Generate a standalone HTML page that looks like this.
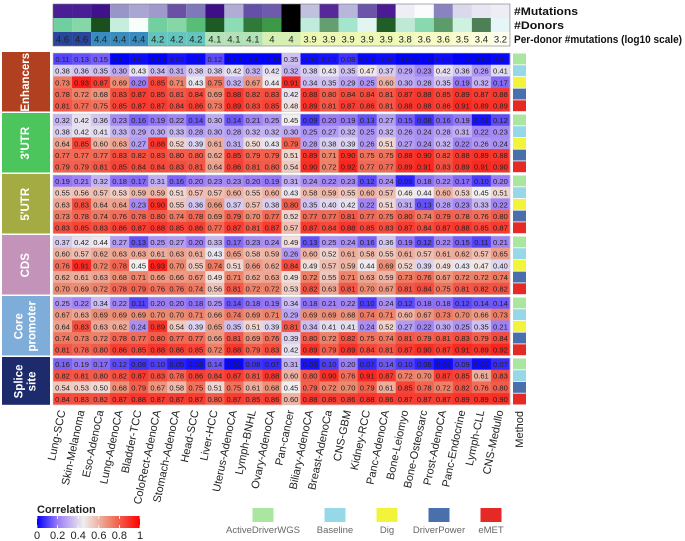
<!DOCTYPE html>
<html><head><meta charset="utf-8">
<style>
html,body{margin:0;padding:0;background:#fff;}
svg{display:block;font-family:"Liberation Sans",sans-serif;}
</style></head>
<body>
<svg id="chart" width="685" height="541" viewBox="0 0 685 541">
<defs>
<linearGradient id="corrgrad" x1="0" x2="1" y1="0" y2="0">
<stop offset="0" stop-color="#0000ff"/><stop offset="0.2" stop-color="#9b7cf5"/><stop offset="0.45" stop-color="#f0eeee"/><stop offset="0.7" stop-color="#ec8a70"/><stop offset="1" stop-color="#ff0000"/>
</linearGradient>
</defs>
<g id="header"></g>
<g id="panels"></g>
<g id="xlabels"></g>
<g>
<text x="37" y="513" font-size="11" font-weight="bold" fill="#222">Correlation</text>
<rect x="37" y="516" width="103" height="12" fill="url(#corrgrad)"/>
<g id="cticks"></g>
</g>
<g id="mlegend"></g>
</svg>
<script>
const NS='http://www.w3.org/2000/svg';
const svg=document.getElementById('chart');
function mk(tag,attrs,parent){const e=document.createElementNS(NS,tag);for(const k in attrs)e.setAttribute(k,attrs[k]);parent.appendChild(e);return e;}

const cancers=["Lung-SCC","Skin-Melanoma","Eso-AdenoCa","Lung-AdenoCA","Bladder-TCC","ColoRect-AdenoCA","Stomach-AdenoCA","Head-SCC","Liver-HCC","Uterus-AdenoCA","Lymph-BNHL","Ovary-AdenoCA","Pan-cancer","Biliary-AdenoCA","Breast-AdenoCa","CNS-GBM","Kidney-RCC","Panc-AdenoCA","Bone-Leiomyo","Bone-Osteosarc","Prost-AdenoCA","Panc-Endocrine","Lymph-CLL","CNS-Medullo"];
const mutColors=["#4a1f95","#4a1f95","#3f128c","#9a95c8","#aaa6d2","#9f9acb","#6a51a5","#7f79bb","#3f0f87","#b0acd6","#6550a8","#6f5bae","#000000","#c2c0df","#56289a","#b9b6db","#6a55a9","#4a1b93","#efeef6","#fbfbfd","#8984c0","#dad9ec","#e7e6f2","#eeedf5"];
const donorColors=["#6fcf9e","#86d7a8","#1b4f1e","#c6eedd","#f7fdfb","#72cf9f","#86d6a6","#58bd76","#1e5a25","#8cdcb6","#2f7a3a","#3d9848","#000000","#bfecdc","#659e70","#a5e5cd","#e2f5f1","#1f5e26","#bde9d6","#88d9b0","#5e9b6a","#cdf2e2","#4e7f57","#e5f5f8"];
const perDonor=[4.6,4.6,4.4,4.4,4.4,4.2,4.2,4.2,4.1,4.1,4.1,4,4,3.9,3.9,3.9,3.9,3.9,3.8,3.6,3.6,3.5,3.4,3.2];
const perDonorLabels=["4.6","4.6","4.4","4.4","4.4","4.2","4.2","4.2","4.1","4.1","4.1","4","4","3.9","3.9","3.9","3.9","3.9","3.8","3.6","3.6","3.5","3.4","3.2"];

const regions=["Enhancers","3'UTR","5'UTR","CDS","Core promoter","Splice site"];
const regionColors=["#b0401f","#4cc65c","#a4ab42","#c393ba","#7fadd9","#1d2a6b"];
const methods=["ActiveDriverWGS","Baseline","Dig","DriverPower","eMET"];
const methodColors=["#abe6a1","#97d8e8","#f1f43a","#4a6fad","#e52a26"];

const enhancers=[
[0.11,0.13,0.15,-0.02,0.02,-0.01,0.03,0.01,0.12,-0.01,-0.01,0.00,0.35,0.02,0.03,0.08,0.01,0.02,-0.03,-0.02,0.02,-0.02,-0.03,0.01],
[0.38,0.36,0.35,0.30,0.43,0.34,0.31,0.38,0.38,0.42,0.32,0.42,0.32,0.38,0.43,0.35,0.47,0.37,0.29,0.23,0.42,0.36,0.26,0.41],
[0.73,0.93,0.87,0.69,0.20,0.85,0.71,0.43,0.75,0.32,0.67,0.44,0.91,0.34,0.35,0.29,0.25,0.60,0.30,0.28,0.35,0.19,0.32,0.17],
[0.78,0.72,0.68,0.83,0.87,0.85,0.81,0.84,0.69,0.88,0.82,0.83,0.42,0.88,0.80,0.84,0.84,0.81,0.87,0.88,0.85,0.89,0.87,0.88],
[0.81,0.77,0.75,0.85,0.87,0.87,0.84,0.86,0.73,0.89,0.83,0.85,0.48,0.89,0.81,0.87,0.86,0.81,0.88,0.88,0.86,0.91,0.89,0.89]];
const utr3=[
[0.32,0.42,0.36,0.23,0.16,0.19,0.22,0.14,0.30,0.14,0.21,0.25,0.45,0.09,0.20,0.19,0.13,0.27,0.15,0.08,0.16,0.19,0.03,0.12],
[0.38,0.42,0.41,0.33,0.29,0.30,0.33,0.28,0.30,0.28,0.32,0.32,0.30,0.25,0.27,0.32,0.25,0.32,0.26,0.24,0.28,0.31,0.22,0.23],
[0.64,0.85,0.60,0.63,0.27,0.88,0.52,0.39,0.61,0.31,0.50,0.43,0.79,0.28,0.38,0.39,0.26,0.51,0.27,0.24,0.32,0.22,0.26,0.24],
[0.77,0.77,0.77,0.83,0.82,0.83,0.80,0.80,0.62,0.85,0.79,0.79,0.51,0.89,0.71,0.90,0.75,0.75,0.88,0.90,0.82,0.88,0.89,0.88],
[0.79,0.79,0.81,0.85,0.84,0.84,0.83,0.81,0.64,0.86,0.81,0.80,0.54,0.90,0.72,0.92,0.77,0.77,0.89,0.91,0.83,0.89,0.91,0.90]];
const utr5=[
[0.19,0.21,0.32,0.18,0.17,0.31,0.16,0.20,0.23,0.23,0.20,0.19,0.31,0.24,0.22,0.23,0.12,0.24,0.06,0.18,0.22,0.17,0.10,0.20],
[0.55,0.56,0.57,0.53,0.59,0.59,0.51,0.57,0.57,0.60,0.55,0.60,0.43,0.58,0.59,0.55,0.60,0.57,0.46,0.44,0.60,0.53,0.45,0.51],
[0.63,0.83,0.64,0.64,0.23,0.90,0.55,0.36,0.66,0.37,0.57,0.38,0.80,0.35,0.40,0.42,0.22,0.51,0.31,0.13,0.28,0.23,0.33,0.22],
[0.73,0.78,0.74,0.76,0.78,0.80,0.74,0.78,0.69,0.79,0.70,0.77,0.52,0.77,0.77,0.81,0.77,0.75,0.80,0.74,0.79,0.78,0.76,0.80],
[0.83,0.85,0.83,0.86,0.87,0.88,0.85,0.86,0.77,0.87,0.81,0.87,0.57,0.87,0.84,0.88,0.85,0.83,0.87,0.84,0.87,0.88,0.85,0.87]];
const cds=[
[0.37,0.42,0.44,0.27,0.13,0.25,0.27,0.20,0.33,0.17,0.23,0.24,0.49,0.13,0.25,0.24,0.16,0.36,0.19,0.12,0.22,0.15,0.11,0.21],
[0.60,0.57,0.62,0.63,0.63,0.61,0.63,0.61,0.43,0.65,0.58,0.59,0.26,0.60,0.52,0.61,0.58,0.55,0.61,0.57,0.61,0.62,0.57,0.65],
[0.76,0.91,0.72,0.78,0.45,0.93,0.70,0.55,0.74,0.51,0.66,0.62,0.84,0.49,0.57,0.59,0.44,0.69,0.52,0.39,0.49,0.43,0.47,0.40],
[0.62,0.61,0.63,0.68,0.71,0.66,0.66,0.67,0.49,0.71,0.62,0.63,0.49,0.72,0.55,0.71,0.63,0.59,0.73,0.76,0.67,0.72,0.72,0.74],
[0.70,0.69,0.72,0.78,0.79,0.76,0.76,0.74,0.56,0.81,0.72,0.72,0.53,0.82,0.63,0.81,0.70,0.67,0.81,0.84,0.75,0.81,0.82,0.82]];
const corePromoter=[
[0.25,0.22,0.34,0.22,0.11,0.20,0.20,0.18,0.25,0.14,0.18,0.19,0.34,0.18,0.21,0.22,0.10,0.24,0.12,0.18,0.18,0.12,0.14,0.14],
[0.67,0.63,0.69,0.69,0.69,0.70,0.70,0.71,0.66,0.74,0.69,0.71,0.29,0.69,0.69,0.68,0.74,0.71,0.60,0.67,0.73,0.70,0.66,0.73],
[0.64,0.83,0.63,0.62,0.24,0.89,0.54,0.39,0.65,0.35,0.51,0.39,0.81,0.34,0.41,0.41,0.24,0.52,0.27,0.22,0.30,0.25,0.35,0.21],
[0.74,0.73,0.72,0.78,0.77,0.80,0.77,0.77,0.66,0.81,0.69,0.76,0.39,0.80,0.72,0.82,0.75,0.74,0.81,0.79,0.81,0.83,0.79,0.84],
[0.81,0.78,0.80,0.86,0.85,0.88,0.86,0.85,0.72,0.88,0.79,0.83,0.42,0.89,0.79,0.89,0.84,0.81,0.87,0.90,0.87,0.91,0.89,0.92]];
const spliceSite=[
[0.16,0.19,0.17,0.12,0.08,0.10,0.05,0.03,0.14,0.01,0.08,0.07,0.31,0.03,0.10,0.20,0.07,0.14,0.10,0.06,0.02,0.09,0.02,0.07],
[0.82,0.81,0.80,0.82,0.87,0.83,0.78,0.86,0.84,0.87,0.81,0.88,0.60,0.80,0.90,0.76,0.91,0.87,0.72,0.70,0.87,0.85,0.61,0.83],
[0.54,0.53,0.50,0.68,0.79,0.67,0.58,0.75,0.51,0.75,0.61,0.68,0.45,0.79,0.72,0.70,0.79,0.61,0.85,0.78,0.72,0.82,0.76,0.80],
[0.84,0.83,0.82,0.87,0.88,0.87,0.87,0.87,0.80,0.87,0.85,0.86,0.60,0.88,0.86,0.86,0.88,0.86,0.87,0.87,0.87,0.89,0.89,0.90]];
const panelData=[enhancers,utr3,utr5,cds,corePromoter,spliceSite];
const panelMethods=[[0,1,2,3,4],[0,1,2,3,4],[0,1,2,3,4],[0,1,2,3,4],[0,1,2,3,4],[0,1,3,4]];
const corrTicks=[0,0.2,0.4,0.6,0.8,1];

const X0=53, CW=19.04, RH=11.7;
const panelTops=[53,114,175,236,297,358];
function xScale(i){return X0+i*CW;}
function rowY(p,r){return panelTops[p]+r*RH;}
const stops=[[0,[0,0,255]],[0.2,[155,124,245]],[0.45,[240,238,238]],[0.7,[236,138,112]],[1,[255,0,0]]];
function corrColor(v){v=Math.max(0,Math.min(1,v));for(let i=1;i<stops.length;i++){if(v<=stops[i][0]){const a=stops[i-1],b=stops[i];const t=(v-a[0])/(b[0]-a[0]);const c=a[1].map((x,k)=>Math.round(x+(b[1][k]-x)*t));return 'rgb('+c.join(',')+')';}}return 'rgb(255,0,0)';}
const pdStops=[[3.2,[255,255,240]],[3.6,[246,251,197]],[3.9,[236,248,180]],[4.0,[214,239,178]],[4.1,[180,226,183]],[4.2,[100,196,190]],[4.4,[56,140,192]],[4.6,[40,70,155]]];
function pdColor(v){for(let i=1;i<pdStops.length;i++){if(v<=pdStops[i][0]){const a=pdStops[i-1],b=pdStops[i];const t=(v-a[0])/(b[0]-a[0]);const c=a[1].map((x,k)=>Math.round(x+(b[1][k]-x)*t));return 'rgb('+c.join(',')+')';}}return 'rgb(40,70,155)';}

const hdr=document.getElementById('header');
const HY=[4,18,32], HH=14;
for(let i=0;i<cancers.length;i++){
  const r1=mk('rect',{x:xScale(i),y:HY[0],width:CW,height:HH,fill:mutColors[i]},hdr);
  
  
  const r2=mk('rect',{x:xScale(i),y:HY[1],width:CW,height:HH,fill:donorColors[i]},hdr);
  
  
  const r3=mk('rect',{x:xScale(i),y:HY[2],width:CW,height:HH,fill:pdColor(perDonor[i])},hdr);
  
  
  const t=mk('text',{x:xScale(i)+CW/2,y:HY[2]+10.5,'font-size':9.5,'text-anchor':'middle',fill:'#222'},hdr);
  t.textContent=perDonorLabels[i];
  
  
}
mk('rect',{x:X0,y:HY[0],width:CW*24,height:HH*3,fill:'none',stroke:'#777','stroke-width':0.6},hdr);
const hLabels=["#Mutations","#Donors","Per-donor #mutations (log10 scale)"];
const hWidths=[64,50,168];
hLabels.forEach((s,k)=>{const t=mk('text',{x:514,y:HY[k]+11,'font-size':11,'font-weight':'bold',fill:'#111',textLength:hWidths[k],lengthAdjust:'spacingAndGlyphs'},hdr);t.textContent=s;
  
  });

const pg=document.getElementById('panels');
panelData.forEach((rows,p)=>{
  const n=rows.length;
  const top=panelTops[p];
  const box=mk('rect',{x:2,y:top-1,width:48,height:n*RH+1,fill:regionColors[p]},pg);
  
  
  const cx=26, cy=top+n*RH/2;
  const words=regions[p].split(' ');
  words.forEach((w,k)=>{
    const off=(k-(words.length-1)/2)*13;
    const t=mk('text',{x:cx+off,y:cy,'font-size':11.5,'font-weight':'bold',fill:'#fff','text-anchor':'middle','dominant-baseline':'central',transform:'rotate(-90 '+(cx+off)+' '+cy+')'},pg);
    t.textContent=w;
    
    
  });
  rows.forEach((vals,r)=>{
    vals.forEach((v,i)=>{
      const c=mk('rect',{x:xScale(i),y:rowY(p,r),width:CW+0.3,height:RH+0.3,fill:corrColor(v)},pg);
      
      
      const t=mk('text',{x:xScale(i)+CW/2,y:rowY(p,r)+RH/2+3,'font-size':7.6,'text-anchor':'middle',fill:'#222'},pg);
      t.textContent=v.toFixed(2);
      
      
    });
    const m=mk('rect',{x:513,y:rowY(p,r)+0.5,width:13,height:RH-0.8,fill:methodColors[panelMethods[p][r]]},pg);
    
    
  });
  mk('rect',{x:X0,y:top,width:CW*24,height:n*RH,fill:'none',stroke:'#ccc','stroke-width':0.6},pg);
});

const xl=document.getElementById('xlabels');
cancers.forEach((s,i)=>{
  const x=xScale(i)+CW/2+3, y=411;
  const t=mk('text',{x:x,y:y,'font-size':11,'text-anchor':'end',fill:'#222',transform:'rotate(-78 '+x+' '+y+')'},xl);
  t.textContent=s;
  
  
});
{const x=523,y=411;const t=mk('text',{x:x,y:y,'font-size':11,'text-anchor':'end',fill:'#222',transform:'rotate(-90 '+x+' '+y+')'},xl);t.textContent='Method';
 
 }

const ct=document.getElementById('cticks');
corrTicks.forEach(v=>{
  const x=37+v*103;
  mk('line',{x1:x,x2:x,y1:516,y2:519,stroke:'#fff','stroke-width':0.8},ct);
  mk('line',{x1:x,x2:x,y1:525,y2:528,stroke:'#fff','stroke-width':0.8},ct);
  const t=mk('text',{x:x,y:539,'font-size':11,'text-anchor':'middle',fill:'#222'},ct);
  t.textContent=String(v);
  
  
});

const ml=document.getElementById('mlegend');
const legendX=[263,335,387,439,491];
methods.forEach((s,k)=>{
  const r=mk('rect',{x:legendX[k]-10.5,y:508,width:21,height:14,fill:methodColors[k]},ml);
  
  
  const t=mk('text',{x:legendX[k],y:533,'font-size':9.5,'text-anchor':'middle',fill:'#666'},ml);
  t.textContent=s;
  
  
});
</script>
</body></html>
